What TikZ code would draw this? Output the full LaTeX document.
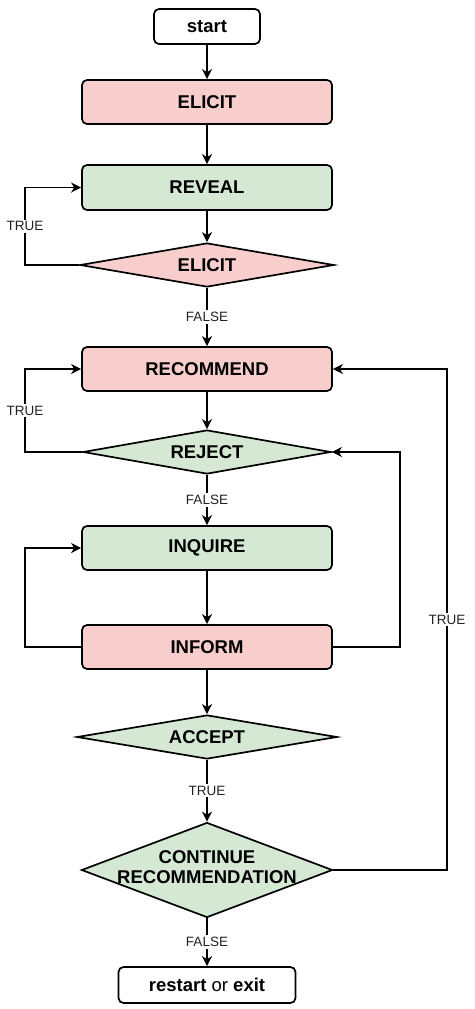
\documentclass[tikz,border=0pt]{standalone}
\usepackage{fontspec}
\setmainfont{Liberation Sans}
\usetikzlibrary{shapes.geometric,arrows.meta}

\definecolor{pinkfill}{HTML}{F8CECC}
\definecolor{greenfill}{HTML}{D5E8D4}
\definecolor{labeltext}{HTML}{222222}

\tikzset{
  boxtext/.style={font=\fontsize{18.5}{20.5}\selectfont\bfseries},
  act/.style={rectangle,rounded corners=5pt,draw,line width=1.7pt,
    minimum width=250pt,minimum height=44pt,boxtext},
  term/.style={rectangle,rounded corners=5pt,draw,line width=1.7pt,
    fill=white,minimum height=35pt,boxtext},
  dec/.style={diamond,draw,line width=1.7pt,inner sep=0pt,aspect=5,boxtext},
  lbl/.style={fill=white,inner sep=2pt,text=labeltext,
    font=\fontsize{13.5}{15}\selectfont},
  arr/.style={line width=1.7pt,-{Stealth[length=10pt,width=10pt,inset=3pt]}}
}

\begin{document}
\begin{tikzpicture}[x=1pt,y=-1pt]

      \useasboundingbox (0,0) rectangle (474,1009);

      \begin{scope}
        \node[term,minimum width=106pt] (start)   at (207,26.5) {start};
        \node[act,fill=pinkfill]  (elicit)    at (207,102)   {ELICIT};
        \node[act,fill=greenfill,minimum height=45pt] (reveal) at (207,187.5) {REVEAL};
        \node[dec,fill=pinkfill,minimum width=254pt,minimum height=44pt]  (elicitq)  at (207,265) {ELICIT};
        \node[act,fill=pinkfill]  (recommend) at (207,369)   {RECOMMEND};
        \node[dec,fill=greenfill,minimum width=248pt,minimum height=44pt] (reject)   at (207,452) {REJECT};
        \node[act,fill=greenfill] (inquire)   at (207,548)   {INQUIRE};
        \node[act,fill=pinkfill]  (inform)    at (207,647)   {INFORM};
        \node[dec,fill=greenfill,minimum width=260pt,minimum height=44pt] (accept)   at (207,737) {ACCEPT};
        \node[dec,fill=greenfill,minimum width=251pt,minimum height=95pt,
          label={[boxtext,align=center,yshift=3pt]center:{CONTINUE\\RECOMMENDATION}}] (continue) at (207,870) {};
        \node[term,minimum width=177pt,minimum height=36pt] (end) at (207,985)
          {restart \textmd{or} exit};
      \end{scope}

      \coordinate (leftx)  at (25,0);
      \coordinate (innerx) at (400,0);
      \coordinate (outerx) at (447,0);

      % main line
      \draw[arr] (start) -- (elicit);
      \draw[arr] (elicit) -- (reveal);
      \draw[arr] (reveal) -- (elicitq);
      \draw[arr] (elicitq) -- node[lbl] {FALSE} (recommend);
      \draw[arr] (recommend) -- (reject);
      \draw[arr] (reject) -- node[lbl] {FALSE} (inquire);
      \draw[arr] (inquire) -- (inform);
      \draw[arr] (inform) -- (accept);
      \draw[arr] (accept) -- node[lbl] {TRUE} (continue);
      \draw[arr] (continue) -- node[lbl] {FALSE} (end);

      % loops
      \draw[arr] (elicitq.west) -- (elicitq.west -| leftx) |- node[lbl,pos=0.25] {TRUE} (reveal.west);
      \draw[arr] (reject.west) -- (reject.west -| leftx) |- node[lbl,pos=0.25] {TRUE} (recommend.west);
      \draw[arr] (inform.west) -- (inform.west -| leftx) |- (inquire.west);
      \draw[arr] (inform.east) -- (inform.east -| innerx) |- (reject.east);
      \draw[arr] (continue.east) -- (continue.east -| outerx) |- node[lbl,pos=0.25] {TRUE} (recommend.east);

    \end{tikzpicture}
\end{document}
